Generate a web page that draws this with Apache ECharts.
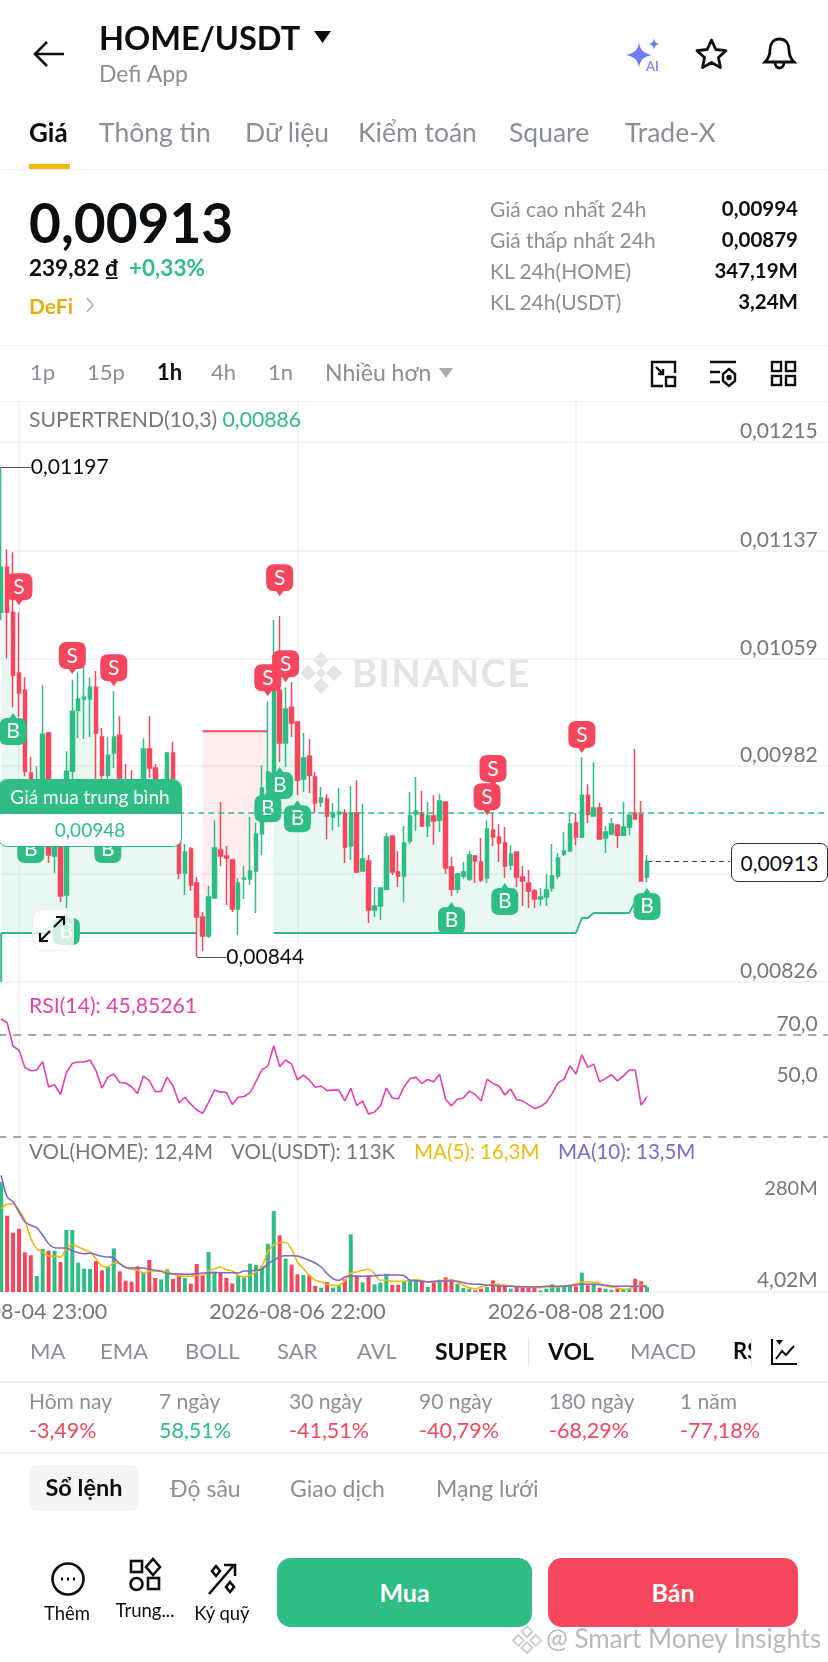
<!DOCTYPE html>
<html lang="vi"><head><meta charset="utf-8"><title>HOME/USDT</title>
<script src="https://cdn.jsdelivr.net/npm/echarts@6/dist/echarts.min.js"></script>
<style>
html,body{margin:0;padding:0;background:#fff;width:828px;height:1662px;overflow:hidden;font-family:Lato,"Noto Sans",sans-serif}
#chart{position:absolute;left:0;top:0;width:828px;height:1662px;z-index:1}
.layer{position:absolute;left:0;top:0;width:828px;height:1662px;pointer-events:none}
.t{position:absolute;white-space:nowrap;line-height:1;transform:translateY(-50%)}
.r{transform:translate(-100%,-50%)}
.c{transform:translate(-50%,-50%)}
.g{color:#8a8f96}.k{color:#0b0e11}.gr{color:#2ebd85}.rd{color:#f6465d}.b{font-weight:700}
.h{position:absolute;left:0;width:828px;height:1px;background:#eeeff1}
svg{position:absolute;overflow:visible}
</style></head><body>
<div class="layer" style="z-index:0">
 <svg style="left:300px;top:652px" width="42" height="42" viewBox="0 0 42 42" fill="#e4e4e4"><path d="M21 0l8 8-8 8-8-8zM8 13l8 8-8 8-8-8zM34 13l8 8-8 8-8-8zM21 16l5 5-5 5-5-5zM21 26l8 8-8 8-8-8z"/></svg>
 <span class="t b" style="left:352px;top:672px;font-size:38px;color:#e4e4e4;letter-spacing:1.5px">BINANCE</span>
</div>
<div id="chart"></div>
<div class="layer" id="ui" style="z-index:2">
 <svg style="left:33px;top:40px" width="31" height="28" viewBox="0 0 31 28" fill="none" stroke="#0b0e11" stroke-width="2.6"><path d="M31 14H2M14 2L2 14l12 12"/></svg>
 <span class="t k b" style="left:99px;top:38px;font-size:32.500px">HOME/USDT</span>
 <svg style="left:314px;top:31px" width="17" height="12"><path d="M0 0h17l-8.500 12z" fill="#0b0e11"/></svg>
 <span class="t g" style="left:99px;top:73px;font-size:23px">Defi App</span>
 <svg style="left:625px;top:38px" width="38" height="34" viewBox="0 0 38 34"><path d="M14 4c1 8 4 11 13 13-9 2-12 5-13 13-1-8-4-11-13-13 9-2 12-5 13-13z" fill="#6f7df5"/><path d="M29 0c.5 4 2 5.500 6 6-4 .5-5.500 2-6 6-.5-4-2-5.500-6-6 4-.5 5.500-2 6-6z" fill="#6f7df5"/><text x="21" y="33" font-size="13" font-weight="700" fill="#8f8cf5" font-family="Lato">AI</text></svg>
 <svg style="left:695px;top:38px" width="33" height="32" viewBox="0 0 33 32" fill="none" stroke="#0b0e11" stroke-width="2.800" stroke-linejoin="round"><path d="M16.500 2l4.300 9.500 10.200 1.100-7.600 6.900 2.100 10.100-9-5.100-9 5.100 2.100-10.100L2 12.600l10.200-1.100z"/></svg>
 <svg style="left:763px;top:37px" width="33" height="34" viewBox="0 0 33 34" fill="none" stroke="#0b0e11" stroke-width="2.800"><path d="M16.500 2C10 2 7 7 7 13c0 6-2 9-5 12h29c-3-3-5-6-5-12 0-6-3-11-9.500-11zM12 25c0 8 9 8 9 0"/></svg>

 <span class="t k b" style="left:29px;top:132px;font-size:26px">Giá</span>
 <span class="t g" style="left:99px;top:132px;font-size:26.500px">Thông tin</span>
 <span class="t g" style="left:245px;top:132px;font-size:26.500px">Dữ liệu</span>
 <span class="t g" style="left:358px;top:132px;font-size:26.500px">Kiểm toán</span>
 <span class="t g" style="left:509px;top:132px;font-size:26.500px">Square</span>
 <span class="t g" style="left:625px;top:132px;font-size:26.500px">Trade-X</span>
 <div style="position:absolute;left:29px;top:164px;width:41px;height:5px;background:#f0b90b"></div>
 <div class="h" style="top:169px"></div>

 <span class="t k b" style="left:29px;top:222px;font-size:55px">0,00913</span>
 <span class="t k" style="left:29px;top:268px;font-size:22.500px;font-weight:700">239,82 ₫</span>
 <span class="t gr" style="left:129px;top:268px;font-size:22.500px;font-weight:700">+0,33%</span>
 <span class="t" style="left:29px;top:305px;font-size:21px;color:#e5ac12;font-weight:700">DeFi</span>
 <svg style="left:85px;top:297px" width="10" height="16" fill="none" stroke="#a8adb3" stroke-width="1.600"><path d="M2 1l6 7-6 7"/></svg>
 <span class="t g" style="left:490px;top:208px;font-size:21px">Giá cao nhất 24h</span>
 <span class="t g" style="left:490px;top:239px;font-size:21px">Giá thấp nhất 24h</span>
 <span class="t g" style="left:490px;top:270px;font-size:21px">KL 24h(HOME)</span>
 <span class="t g" style="left:490px;top:301px;font-size:21px">KL 24h(USDT)</span>
 <span class="t r k b" style="left:798px;top:208px;font-size:20.500px">0,00994</span>
 <span class="t r k b" style="left:798px;top:239px;font-size:20.500px">0,00879</span>
 <span class="t r k b" style="left:798px;top:270px;font-size:20.500px">347,19M</span>
 <span class="t r k b" style="left:798px;top:301px;font-size:20.500px">3,24M</span>
 <div class="h" style="top:345px"></div>

 <span class="t g" style="left:30px;top:372px;font-size:22px">1p</span>
 <span class="t g" style="left:87px;top:372px;font-size:22px">15p</span>
 <span class="t k b" style="left:157px;top:372px;font-size:22px">1h</span>
 <span class="t g" style="left:211px;top:372px;font-size:22px">4h</span>
 <span class="t g" style="left:268px;top:372px;font-size:22px">1n</span>
 <span class="t g" style="left:325px;top:372px;font-size:23px">Nhiều hơn</span>
 <svg style="left:439px;top:368px" width="14" height="10"><path d="M0 0h14l-7 10z" fill="#a8adb3"/></svg>
 <svg style="left:650px;top:360px" width="27" height="27" viewBox="0 0 27 27" fill="none" stroke="#0b0e11" stroke-width="2.400"><path d="M13 26H2V2h23v11M6 7l7 7M13 9v5H8"/><rect x="16" y="17" width="9" height="9"/></svg>
 <svg style="left:709px;top:360px" width="28" height="27" viewBox="0 0 28 27" fill="none" stroke="#0b0e11" stroke-width="2.400"><path d="M1 2h26M1 12h10M1 22h10"/><path d="M20 9l6 5v7l-6 5-6-5v-7z"/><circle cx="20" cy="17.500" r="1.500"/></svg>
 <svg style="left:770px;top:360px" width="27" height="27" viewBox="0 0 27 27" fill="none" stroke="#0b0e11" stroke-width="2.400"><rect x="2" y="2" width="9" height="9"/><rect x="16" y="2" width="9" height="9"/><rect x="2" y="16" width="9" height="9"/><rect x="16" y="16" width="9" height="9"/></svg>
 <div class="h" style="top:401px"></div>

 <span class="t" style="left:29px;top:420px;font-size:21.200px;color:#777">SUPERTREND(10,3) <span class="gr">0,00886</span></span>
 <span class="t" style="left:29px;top:1006px;font-size:21.200px;color:#e63fb0">RSI(14): 45,85261</span>
 <span class="t" style="left:29px;top:1151px;font-size:20.500px;color:#777">VOL(HOME): 12,4M</span>
 <span class="t" style="left:231px;top:1151px;font-size:20.500px;color:#777">VOL(USDT): 113K</span>
 <span class="t" style="left:414px;top:1151px;font-size:20.500px;color:#f0b90b">MA(5): 16,3M</span>
 <span class="t" style="left:558px;top:1151px;font-size:20.500px;color:#8566c4">MA(10): 13,5M</span>

 <div style="position:absolute;left:-2px;top:779px;width:182px;height:66px;border:1.500px solid #2ebd85;border-radius:9px;background:#fff;overflow:hidden">
  <div style="height:34px;background:#2ebd85;color:#fff;font-size:19px;line-height:34px;text-align:center">Giá mua trung bình</div>
  <div style="color:#2ebd85;font-size:19px;line-height:32px;text-align:center">0,00948</div>
 </div>
 <div style="position:absolute;left:731px;top:843px;width:95px;height:37px;border:1.500px solid #2b3139;border-radius:7px;background:#fff;color:#0b0e11;font-size:21px;line-height:37px;text-align:center">0,00913</div>
 <div style="position:absolute;left:32px;top:909px;width:40px;height:40px;border:1.500px solid #eee;border-radius:10px;background:rgba(255,255,255,.78)"></div>
 <svg style="left:39px;top:916px" width="26" height="26" viewBox="0 0 26 26" fill="none" stroke="#0b0e11" stroke-width="2.200"><path d="M15 11L25 1M17 1h8v8M11 15L1 25M1 17v8h8"/></svg>

 <span class="t g" style="left:30px;top:1351px;font-size:22px">MA</span>
 <span class="t g" style="left:100px;top:1351px;font-size:22px">EMA</span>
 <span class="t g" style="left:185px;top:1351px;font-size:22px">BOLL</span>
 <span class="t g" style="left:277px;top:1351px;font-size:22px">SAR</span>
 <span class="t g" style="left:357px;top:1351px;font-size:22px">AVL</span>
 <span class="t k b" style="left:435px;top:1351px;font-size:23px">SUPER</span>
 <div style="position:absolute;left:528px;top:1338px;width:1px;height:28px;background:#e6e8ea"></div>
 <span class="t k b" style="left:548px;top:1351px;font-size:23px">VOL</span>
 <span class="t g" style="left:630px;top:1351px;font-size:22px">MACD</span>
 <div style="position:absolute;left:730px;top:1338px;width:21px;height:28px;overflow:hidden"><span class="t k b" style="left:3px;top:13px;font-size:22px">RSI</span></div>
 <div style="position:absolute;left:751px;top:1338px;width:1px;height:28px;background:#e6e8ea"></div>
 <svg style="left:770px;top:1339px" width="27" height="27" viewBox="0 0 27 27" fill="none" stroke="#0b0e11" stroke-width="2"><path d="M2 0v25h25M6 20l6-8 4 4 8-9"/><path d="M6 1h7l-3.500 5z" fill="#0b0e11" stroke="none"/></svg>
 <div class="h" style="top:1381px;height:2px"></div>

 <span class="t g" style="left:29px;top:1400px;font-size:21px">Hôm nay</span>
 <span class="t g" style="left:159px;top:1400px;font-size:21px">7 ngày</span>
 <span class="t g" style="left:289px;top:1400px;font-size:21px">30 ngày</span>
 <span class="t g" style="left:419px;top:1400px;font-size:21px">90 ngày</span>
 <span class="t g" style="left:549px;top:1400px;font-size:21px">180 ngày</span>
 <span class="t g" style="left:680px;top:1400px;font-size:21px">1 năm</span>
 <span class="t rd" style="left:29px;top:1431px;font-size:21.500px">-3,49%</span>
 <span class="t gr" style="left:159px;top:1431px;font-size:21.500px">58,51%</span>
 <span class="t rd" style="left:289px;top:1431px;font-size:21.500px">-41,51%</span>
 <span class="t rd" style="left:419px;top:1431px;font-size:21.500px">-40,79%</span>
 <span class="t rd" style="left:549px;top:1431px;font-size:21.500px">-68,29%</span>
 <span class="t rd" style="left:680px;top:1431px;font-size:21.500px">-77,18%</span>
 <div class="h" style="top:1452px;height:2px"></div>

 <div style="position:absolute;left:29px;top:1465px;width:110px;height:46px;border-radius:8px;background:#f5f5f5"></div>
 <span class="t c k" style="left:84px;top:1488px;font-size:23.500px;font-weight:700">Sổ lệnh</span>
 <span class="t g" style="left:170px;top:1488px;font-size:23px">Độ sâu</span>
 <span class="t g" style="left:290px;top:1488px;font-size:23px">Giao dịch</span>
 <span class="t g" style="left:436px;top:1488px;font-size:23px">Mạng lưới</span>

 <svg style="left:51px;top:1562px" width="34" height="34" viewBox="0 0 34 34" fill="none" stroke="#0b0e11" stroke-width="2.600"><circle cx="17" cy="17" r="15.500"/><path d="M10 17h2M16 17h2M22 17h2" stroke-width="3"/></svg>
 <svg style="left:129px;top:1558px" width="32" height="34" viewBox="0 0 32 34" fill="none" stroke="#0b0e11" stroke-width="2.600"><rect x="2" y="3" width="11" height="11"/><path d="M24 1l7 8-7 8-7-8z"/><circle cx="7.500" cy="26" r="6"/><rect x="19" y="20" width="11" height="11"/></svg>
 <svg style="left:207px;top:1562px" width="30" height="34" viewBox="0 0 30 34" fill="none" stroke="#0b0e11" stroke-width="2.600"><path d="M2 32L27 3M17 3h11v11M9 4l4 5-4 5-4-5zM23 20l4 5-4 5-4-5z"/></svg>
 <span class="t c k" style="left:67px;top:1613px;font-size:18.500px">Thêm</span>
 <span class="t c k" style="left:145px;top:1610px;font-size:18.500px">Trung...</span>
 <span class="t c k" style="left:222px;top:1613px;font-size:18.500px">Ký quỹ</span>
 <div style="position:absolute;left:277px;top:1558px;width:255px;height:69px;border-radius:14px;background:#2ebd85;color:#fff;font-size:25px;font-weight:700;line-height:69px;text-align:center">Mua</div>
 <div style="position:absolute;left:548px;top:1558px;width:250px;height:69px;border-radius:14px;background:#f6465d;color:#fff;font-size:25px;font-weight:700;line-height:69px;text-align:center">Bán</div>
 <svg style="left:513px;top:1625px" width="28" height="28" viewBox="0 0 42 42" fill="none" stroke="#cfcfcf" stroke-width="3"><path d="M21 2l8 8-8 8-8-8zM8 15l8 8-8 8-8-8zM34 15l8 8-8 8-8-8zM21 26l8 8-8 8-8-8z"/></svg>
 <span class="t" style="left:546px;top:1638px;font-size:26px;color:#b9b9b9">@ Smart Money Insights</span>
</div>
<script>
// Hourly categories: 2026-08-04 20:00 onward, with blank room on the right of the chart.
const CATEGORY_COUNT = 140;
const categories = [];
for (let k = 0; k < CATEGORY_COUNT; k++) {
  const d = new Date(Date.UTC(2026, 7, 4, 20 + k));
  const p = n => String(n).padStart(2, '0');
  categories.push(`${d.getUTCFullYear()}-${p(d.getUTCMonth() + 1)}-${p(d.getUTCDate())} ${p(d.getUTCHours())}:00`);
}
// Prices are listed in units of 0.00001 USDT.
const PRICE_UNIT = 1e-5;
const opens = [1092.4,1124.8,1092.4,1048.5,1036.2,976.5,957.0,960.6,1005.3,916.7,946.2,888.6,977.9,1021.8,1029.8,1029.8,1038.4,1002.4,975.0,990.9,1003.8,971.4,967.8,960.6,971.4,993.8,980.1,949.8,964.2,990.9,960.6,904.5,921.8,897.3,872.8,859.1,886.5,921.0,916.7,913.8,878.6,900.2,900.2,905.9,932.6,965.7,977.2,1036.2,998.1,1024.0,1013.2,972.2,988.7,973.6,955.6,957.8,944.8,947.0,947.7,923.9,947.7,905.9,913.1,877.8,880.7,892.9,931.1,905.2,902.3,927.5,947.0,947.7,938.3,945.5,942.6,955.6,908.8,892.9,902.3,900.2,916.7,912.4,900.9,935.4,930.4,926.1,910.2,919.6,901.6,897.3,891.5,885.8,887.2,893.7,902.3,918.2,920.3,940.5,930.4,960.6,945.5,951.3,929.7,932.6,939.0,931.8,937.6,947.7,946.9,901.6];
const closes = [1124.8,1092.4,1047.0,1034.1,977.9,953.4,967.8,1004.5,917.4,946.2,887.9,977.9,1021.1,1029.8,1031.2,1038.4,1005.3,975.0,989.4,1002.4,972.9,957.0,953.4,953.4,993.8,980.1,967.8,960.6,990.9,964.2,904.5,919.6,895.8,872.8,859.1,887.2,922.5,916.7,915.3,878.6,897.3,900.9,905.9,932.6,965.7,977.2,1036.2,998.1,1022.6,1012.5,971.4,987.3,975.0,954.9,958.5,945.5,947.7,948.4,923.2,947.7,905.2,914.6,877.8,880.7,893.7,930.4,905.2,902.3,926.1,945.5,949.1,938.3,945.5,941.9,956.3,908.1,892.9,903.8,905.2,917.4,913.1,899.4,936.2,930.4,926.1,909.5,918.2,901.6,898.7,891.5,885.8,887.2,892.2,902.3,915.3,920.3,939.8,930.4,960.6,946.9,951.3,929.0,934.0,939.8,931.8,937.6,946.2,943.4,898.7,913.0];
const lows = [1086.6,1059.3,1024.0,1016.8,974.3,938.3,946.2,949.8,911.7,904.5,883.6,879.3,971.4,1001.7,1001.0,1002.4,971.4,971.4,938.3,980.1,971.4,949.8,946.2,946.2,960.6,972.9,960.6,942.6,957.0,953.4,900.2,888.6,891.5,844.0,848.3,857.7,885.8,909.5,881.4,876.4,859.8,885.8,895.8,875.7,917.4,960.6,971.4,984.4,980.8,1002.4,960.6,962.8,962.1,947.7,952.0,929.0,935.4,937.6,911.7,913.8,904.5,905.2,868.5,872.8,870.6,892.9,903.0,894.4,883.6,925.4,934.7,937.6,930.4,924.6,934.0,903.8,887.9,890.1,900.2,898.7,897.3,898.0,897.3,924.0,912.4,900.9,906.6,894.4,880.7,879.3,879.3,880.7,880.7,890.8,900.2,916.7,920.3,924.6,929.7,940.5,945.5,929.0,918.9,931.8,922.5,931.8,931.8,943.4,898.7,898.0];
const highs = [1197.0,1137.8,1135.6,1092.4,1045.6,988.0,981.5,1039.8,1006.0,967.8,953.4,992.3,1043.4,1049.2,1070.1,1045.6,1050.0,1008.9,1002.4,1035.5,1017.5,983.0,978.6,967.8,1001.5,1017.5,983.0,967.8,991.6,998.8,967.8,925.4,923.2,901.6,876.4,895.1,942.6,955.6,924.0,914.6,900.9,909.5,944.8,940.5,982.2,1028.3,1086.7,1089.6,1038.4,1042.0,1013.9,1005.3,1001.0,977.2,966.4,961.4,954.9,965.7,950.6,967.1,971.4,954.2,917.4,894.4,893.7,933.3,931.8,920.3,938.3,962.8,973.6,963.5,955.6,960.6,961.4,955.6,916.0,904.5,912.4,920.3,917.4,929.7,942.6,947.7,939.8,937.6,924.6,919.6,909.5,906.6,893.0,893.7,903.8,925.4,918.9,934.0,947.7,947.7,988.0,968.5,984.4,954.9,938.3,944.1,939.8,955.6,946.9,993.8,956.3,917.4];
const _ = null;
const superStart = [826.0, 861.3];
const superUp = [861.3,861.3,861.3,861.3,861.3,861.3,861.3,861.3,861.3,861.3,861.3,861.3,861.3,861.3,861.3,861.3,861.3,861.3,861.3,861.3,861.3,861.3,861.3,861.3,861.3,861.3,861.3,861.3,861.3,861.3,861.3,861.3,861.3,861.3,_,_,_,_,_,_,_,_,_,_,_,_,861.3,861.3,861.3,861.3,861.3,861.3,861.3,861.3,861.3,861.3,861.3,861.3,861.3,861.3,861.3,861.3,861.3,861.3,861.3,861.3,861.3,861.3,861.3,861.3,861.3,861.3,861.3,861.3,861.3,861.3,861.3,861.3,861.3,861.3,861.3,861.3,861.3,861.3,861.3,861.3,861.3,861.3,861.3,861.3,861.3,861.3,861.3,861.3,861.3,861.3,861.3,861.3,872.1,872.1,875.7,875.7,875.7,875.7,875.7,875.7,875.7,883.6,886.0,886.0];
const superDown = [_,_,_,_,_,_,_,_,_,_,_,_,_,_,_,_,_,_,_,_,_,_,_,_,_,_,_,_,_,_,_,_,_,_,1006.7,1006.7,1006.7,1006.7,1006.7,1006.7,1006.7,1006.7,1006.7,1006.7,1006.7,1006.7];
const rsi = [76.3,74.8,65.7,64.0,57.3,56.0,56.3,59.5,49.6,50.5,46.7,55.2,58.9,59.4,59.4,60.2,56.0,49.2,53.5,54.7,51.4,51.2,49.7,47.1,53.9,52.1,47.8,47.9,53.5,50.0,43.5,45.6,42.9,40.6,39.3,43.6,48.4,47.6,47.5,42.8,45.6,45.9,47.4,51.7,56.3,57.8,65.8,57.6,60.2,58.6,52.4,54.3,52.4,49.5,50.0,48.2,48.4,48.4,44.2,49.1,42.4,44.1,39.0,39.8,42.3,49.2,45.4,44.9,49.7,52.9,53.4,51.0,52.6,51.7,54.6,44.8,42.2,44.8,45.3,48.0,46.7,44.1,52.7,51.0,50.0,46.5,48.8,44.6,44.2,42.7,41.2,41.9,43.6,47.1,51.3,52.7,58.0,54.7,62.3,57.3,58.6,51.6,53.0,54.4,52.0,53.9,56.3,56.3,42.5,45.85];
// Volumes in millions of HOME.
const volumes = [275.0,190.8,148.3,158.3,99.2,91.7,40.0,107.5,103.3,103.3,75.0,155.0,155.0,73.3,58.3,57.5,77.5,54.2,62.5,109.2,51.7,28.3,25.8,64.2,50.0,80.0,35.0,31.7,56.7,32.5,41.7,35.0,20.8,70.0,41.7,100.0,47.5,50.0,35.0,21.7,41.7,36.7,70.8,67.5,65.0,120.8,202.5,141.7,83.3,68.3,44.2,42.5,41.7,15.0,10.8,25.0,10.8,15.0,31.7,144.2,41.7,24.2,41.7,19.2,23.3,45.8,17.5,18.3,25.0,29.2,31.7,25.0,12.5,25.0,30.8,36.7,31.7,20.8,10.0,8.3,4.2,8.3,12.5,29.2,16.7,16.7,8.3,14.2,10.8,10.8,12.5,4.2,8.3,19.2,12.5,14.2,14.2,14.2,48.3,16.7,20.8,10.8,8.3,5.8,8.3,5.8,8.3,33.3,26.7,12.4];
const ma5 = [208.3,219.2,220.8,204.2,179.2,133.3,108.3,100,90,89.2,87.5,108.3,118.3,112.5,105.8,100,83.3,64.2,62.5,72.5,70.8,62.5,56.7,54.2,47.5,51.7,52.5,52.5,51.7,44.2,40,39.2,39.2,41.7,41.7,52.5,57.5,62.5,55.8,52.5,41.7,37.5,41.7,50,64.2,100,118.3,123.3,124.2,108.3,75,58.3,41.7,29.2,25,19.2,16.7,16.7,29.2,47.5,50,54.2,56.7,45.8,29.2,29.2,26.7,26.7,26.7,29.2,30.8,29.2,25,25,26.7,29.2,29.2,25,16.7,10.8,8.3,12.5,16.7,19.2,19.2,17.5,15,14.2,12.5,12.5,12.5,10.8,12.5,12.5,12.5,14.2,16.7,20.8,24.2,25,24.2,22.5,14.2,12.5,9.2,6.7,8.3,14.2,16.7,16.3];
const ma10 = [291.7,237.5,225,200,175,166.7,160.8,141.7,120.8,110.8,110,110,102.5,98.3,95.8,97.5,93.3,89.2,87.5,85,70.8,60.8,60,60,60,56.7,54.2,51.7,45.8,45.8,45,44.2,44.2,45.8,47.5,47.5,49.2,48.3,48.3,48.3,47.5,52.5,52.5,54.2,55.8,70.8,79.2,87.5,90.8,90.8,90,85,79.2,72.5,62.5,45.8,33.3,29.2,37.5,40,39.2,39.2,39.2,40.8,41.7,42.5,42.5,42.5,40.8,29.2,28.3,26.7,25,26.7,27.5,27.5,27.5,26.7,23.3,20.8,19.2,19.2,16.7,16.7,15,14.2,14.2,13.3,13.3,13.3,13.3,13.3,14.2,14.2,14.2,15,15.8,17.5,19.2,19.2,19.2,18.3,16.7,15,14.2,14.2,14.2,14.2,14.2,13.5];
const sellIdx = [3,12,19,47,45,48,83,82,98];
const sellTip = [1097.4,1047.8,1039.1,1103.9,1031.9,1042.0,966.4,946.2,990.9];
const buyIdx = [2,5,18,11,45,47,50,76,85,109];
const buyTip = [1019.7,934.7,934.7,875.7,964.2,980.8,957.0,883.6,897.3,893.7];
const priceTicks = [0.00826,0.00904,0.00982,0.01059,0.01137,0.01215];
const priceLabels = [0.00826,0.00982,0.01059,0.01137,0.01215];
const AVG_BUY = 0.00948, LAST_PRICE = 0.00913, HIGH_PRICE = 0.01197, LOW_PRICE = 0.00844;

const UP = '#2ebd85', DOWN = '#f6465d', GRID = '#f0f1f2', AXIS_TXT = '#777';
const FONT = 'Lato, "Noto Sans", sans-serif';
const px = v => v == null ? null : v * PRICE_UNIT;
const comma = (v, d) => v.toFixed(d).replace('.', ',');
const ohlc = opens.map((o, i) => [px(o), px(closes[i]), px(lows[i]), px(highs[i])]);
const closeP = closes.map(px);
const tagSell = 'path://M8 0H19Q27 0 27 8V19Q27 27 19 27H17L13.500 32L10 27H8Q0 27 0 19V8Q0 0 8 0Z';
const tagBuy = 'path://M13.500 0L17 5H19Q27 5 27 13V24Q27 32 19 32H8Q0 32 0 24V13Q0 5 8 5H10Z';
const tickEvery = i => i % 47 === 3;

const gridBase = {left: -1.76, width: 829.5, containLabel: false, outerBoundsMode: 'none'};
const xBase = {
  type: 'category', data: categories, boundaryGap: true,
  axisLine: {show: false}, axisTick: {show: false}, axisLabel: {show: false},
  splitLine: {show: true, alignWithLabel: true, interval: tickEvery, lineStyle: {color: GRID, width: 1.5}}
};
const fillUp = 'rgba(46,189,133,0.10)', fillDown = 'rgba(246,70,93,0.10)';

const chart = echarts.init(document.getElementById('chart'), null, {width: 828, height: 1662});
chart.setOption({
  animation: false,
  backgroundColor: 'transparent',
  textStyle: {fontFamily: FONT},
  grid: [
    {...gridBase, top: 402, height: 580},
    {...gridBase, top: 982, height: 155},
    {...gridBase, top: 1137, height: 155}
  ],
  xAxis: [
    {...xBase, gridIndex: 0},
    {...xBase, gridIndex: 1},
    {...xBase, gridIndex: 2,
      axisLine: {show: true, lineStyle: {color: GRID, width: 1.5}},
      axisLabel: {show: true, interval: tickEvery, color: AXIS_TXT, fontSize: 21.5, margin: 9, fontFamily: FONT}}
  ],
  yAxis: [
    {gridIndex: 0, type: 'value', position: 'right', min: 0.00826, max: 0.012438, scale: true,
      axisLine: {show: false},
      axisTick: {show: false, customValues: priceTicks},
      splitLine: {show: true, lineStyle: {color: GRID, width: 1.5}},
      axisLabel: {inside: true, margin: 10, customValues: priceLabels, color: AXIS_TXT, fontSize: 21, fontFamily: FONT,
        verticalAlign: 'bottom', align: 'right', formatter: v => comma(v, 5)}},
    {gridIndex: 1, type: 'value', position: 'right', min: 30, max: 90.8,
      axisLine: {show: false},
      axisTick: {show: false, customValues: [30, 50, 70]},
      splitLine: {show: false},
      axisLabel: {inside: true, margin: 10, customValues: [50, 70], color: AXIS_TXT, fontSize: 21, fontFamily: FONT,
        verticalAlign: 'bottom', align: 'right', formatter: v => comma(v, 1)}},
    {gridIndex: 2, type: 'value', position: 'right', min: 0, max: 387.5,
      axisLine: {show: false},
      axisTick: {show: false, customValues: [4.02, 280]},
      splitLine: {show: false},
      axisLabel: {inside: true, margin: 10, customValues: [4.02, 280], color: AXIS_TXT, fontSize: 21, fontFamily: FONT, align: 'right',
        formatter: v => v > 100 ? `{hi|${comma(v, 0)}M}` : `{lo|${comma(v, 2)}M}`,
        rich: {hi: {padding: [17, 0, 0, 0], fontSize: 20, color: AXIS_TXT}, lo: {padding: [0, 0, 21, 0], fontSize: 21, color: AXIS_TXT}}}}
  ],
  series: [
    // Supertrend bands: line value plus the gap up to (or down from) the close.
    {type: 'line', name: 'SuperStart', xAxisIndex: 0, yAxisIndex: 0, symbol: 'none', z: 1,
      data: superStart.map(v => [0, px(v)]), lineStyle: {color: UP, width: 2}},
    {type: 'line', name: 'SuperUp', xAxisIndex: 0, yAxisIndex: 0, stack: 'up', data: superUp.map(px), symbol: 'none', z: 1,
      lineStyle: {color: UP, width: 2}},
    {type: 'line', name: 'SuperUpFill', xAxisIndex: 0, yAxisIndex: 0, stack: 'up', symbol: 'none', z: 1,
      data: superUp.map((v, i) => v == null ? null : closeP[i] - px(v)),
      lineStyle: {width: 0}, areaStyle: {color: fillUp, opacity: 1}},
    {type: 'line', name: 'SuperDownBase', xAxisIndex: 0, yAxisIndex: 0, stack: 'down', symbol: 'none', z: 1,
      data: superDown.map((v, i) => v == null ? null : closeP[i]), lineStyle: {width: 0}},
    {type: 'line', name: 'SuperDownFill', xAxisIndex: 0, yAxisIndex: 0, stack: 'down', symbol: 'none', z: 1,
      data: superDown.map((v, i) => v == null ? null : px(v) - closeP[i]),
      lineStyle: {width: 0}, areaStyle: {color: fillDown, opacity: 1}},
    {type: 'line', name: 'SuperDown', xAxisIndex: 0, yAxisIndex: 0, symbol: 'none', z: 2, data: superDown.map(px),
      lineStyle: {color: DOWN, width: 2},
      markLine: {silent: true, symbol: 'none', animation: false, precision: 5, label: {show: false},
        lineStyle: {color: UP, type: [6, 4], width: 1.5}, data: [{yAxis: AVG_BUY}]}},
    {type: 'candlestick', name: 'HOME/USDT', xAxisIndex: 0, yAxisIndex: 0, data: ohlc, barWidth: 4, z: 3,
      itemStyle: {color: UP, color0: DOWN, borderColor: UP, borderColor0: DOWN, borderWidth: 1.5},
      markLine: {silent: true, symbol: 'none', animation: false, precision: 5, z: 3, data: [
        [{coord: [109, LAST_PRICE], label: {show: false}, lineStyle: {color: '#444', type: [5, 4], width: 1}}, {coord: [123, LAST_PRICE]}],
        [{coord: [0, HIGH_PRICE], label: {show: true, position: 'end', formatter: comma(HIGH_PRICE, 5), color: '#0b0e11', fontSize: 21, distance: 0, fontFamily: FONT}, lineStyle: {color: '#555', type: 'solid', width: 1}}, {coord: [5, HIGH_PRICE]}],
        [{coord: [33, LOW_PRICE], label: {show: true, position: 'end', formatter: comma(LOW_PRICE, 5), color: '#0b0e11', fontSize: 21, distance: 0, fontFamily: FONT}, lineStyle: {color: '#555', type: 'solid', width: 1}}, {coord: [38, LOW_PRICE]}]
      ]}},
    {type: 'scatter', name: 'Buy', xAxisIndex: 0, yAxisIndex: 0, z: 4, symbol: tagBuy, symbolSize: [27, 32], symbolOffset: [0, '50%'],
      data: buyIdx.map((x, i) => [x, px(buyTip[i])]), itemStyle: {color: UP, opacity: 1},
      label: {show: true, position: 'inside', offset: [0, 2], formatter: 'B', color: '#fff', fontSize: 21, fontFamily: FONT}},
    {type: 'scatter', name: 'Sell', xAxisIndex: 0, yAxisIndex: 0, z: 5, symbol: tagSell, symbolSize: [27, 32], symbolOffset: [0, '-50%'],
      data: sellIdx.map((x, i) => [x, px(sellTip[i])]), itemStyle: {color: DOWN, opacity: 1},
      label: {show: true, position: 'inside', offset: [0, -2], formatter: 'S', color: '#fff', fontSize: 21, fontFamily: FONT}},
    {type: 'line', name: 'RSI(14)', xAxisIndex: 1, yAxisIndex: 1, data: rsi, symbol: 'none', z: 2,
      lineStyle: {color: '#e63fb0', width: 1.6},
      markLine: {silent: true, symbol: 'none', animation: false, label: {show: false},
        lineStyle: {color: '#888', type: [8, 7], width: 1.5}, data: [{yAxis: 70}, {yAxis: 30}]}},
    {type: 'bar', name: 'VOL', xAxisIndex: 2, yAxisIndex: 2, barWidth: 4, z: 2,
      data: volumes.map((v, i) => ({value: v, itemStyle: {color: closes[i] >= opens[i] ? UP : DOWN}}))},
    {type: 'line', name: 'MA(5)', xAxisIndex: 2, yAxisIndex: 2, data: ma5, symbol: 'none', smooth: 0.3, z: 3, lineStyle: {color: '#f0b90b', width: 1.6}},
    {type: 'line', name: 'MA(10)', xAxisIndex: 2, yAxisIndex: 2, data: ma10, symbol: 'none', smooth: 0.3, z: 3, lineStyle: {color: '#8566c4', width: 1.6}}
  ]
});
</script>
</body></html>
